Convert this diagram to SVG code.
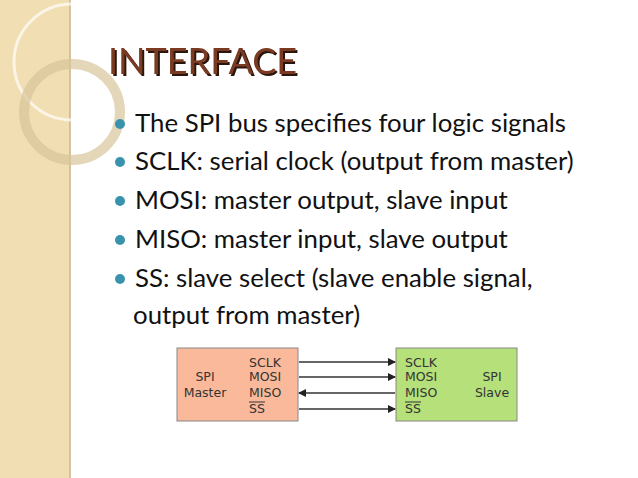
<svg xmlns="http://www.w3.org/2000/svg" width="638" height="478" viewBox="0 0 638 478">
<style>
.b{font-family:"Lato","Open Sans",sans-serif;font-size:25.8px;fill:#111}
.s{font-family:"DejaVu Sans",sans-serif;font-size:12.5px;fill:#333}
.ln{stroke:#333;stroke-width:1.3;fill:none}
</style>
<defs>
<marker id="ah" markerWidth="8" markerHeight="8" refX="7" refY="4" orient="auto" markerUnits="userSpaceOnUse"><path d="M0,0 L8,4 L0,8 Z" fill="#222"/></marker>
<filter id="sh" x="-5%" y="-20%" width="110%" height="140%"><feDropShadow dx="2" dy="2" stdDeviation="0.3" flood-color="#2a1810"/></filter>
</defs>
<rect width="638" height="478" fill="#fff"/>
<g id="strip">
<rect x="0" y="0" width="70" height="478" fill="#f1deb2"/>
<line x1="70" y1="0" x2="70" y2="478" stroke="#c9b48a" stroke-width="1.5"/>
<circle cx="72" cy="62" r="58" fill="none" stroke="#fff" stroke-opacity="0.7" stroke-width="3"/>
<circle cx="72" cy="112" r="48" fill="none" stroke="#d8c59a" stroke-opacity="0.7" stroke-width="10"/>
</g>
<g id="title">
<text x="108" y="74" font-family="Lato,sans-serif" font-size="36" fill="#7a3a22" filter="url(#sh)">INTERFACE</text>
</g>
<g id="bullets" fill="#3a93ad">
<circle cx="120" cy="124" r="5"/><circle cx="120" cy="162" r="5"/><circle cx="120" cy="201" r="5"/><circle cx="120" cy="240" r="5"/><circle cx="120" cy="279" r="5"/>
</g>
<g id="text">
<text class="b" x="135" y="132">The SPI bus specifies four logic signals</text>
<text class="b" x="135" y="170">SCLK: serial clock (output from master)</text>
<text class="b" x="135" y="209">MOSI: master output, slave input</text>
<text class="b" x="135" y="248">MISO: master input, slave output</text>
<text class="b" x="135" y="287">SS: slave select (slave enable signal,</text>
<text class="b" x="133" y="324">output from master)</text>
</g>
<g id="master">
<rect x="177" y="348" width="121" height="73" fill="#f9b99a" stroke="#888"/>
<text class="s" x="205" y="381" text-anchor="middle">SPI</text>
<text class="s" x="205" y="397" text-anchor="middle">Master</text>
<text class="s" x="249" y="367">SCLK</text>
<text class="s" x="249" y="381">MOSI</text>
<text class="s" x="249" y="397">MISO</text>
<text class="s" x="249" y="413">SS</text>
<line x1="249" y1="402" x2="265" y2="402" stroke="#333"/>
</g>
<g id="slave">
<rect x="396" y="348" width="121" height="73" fill="#b6e07a" stroke="#888"/>
<text class="s" x="492" y="381" text-anchor="middle">SPI</text>
<text class="s" x="492" y="397" text-anchor="middle">Slave</text>
<text class="s" x="405" y="367">SCLK</text>
<text class="s" x="405" y="381">MOSI</text>
<text class="s" x="405" y="397">MISO</text>
<text class="s" x="405" y="413">SS</text>
<line x1="405" y1="402" x2="421" y2="402" stroke="#333"/>
</g>
<g id="connectors">
<line class="ln" x1="299" y1="362" x2="395" y2="362" marker-end="url(#ah)"/>
<line class="ln" x1="299" y1="377" x2="395" y2="377" marker-end="url(#ah)"/>
<line class="ln" x1="395" y1="393" x2="299" y2="393" marker-end="url(#ah)"/>
<line class="ln" x1="299" y1="409" x2="395" y2="409" marker-end="url(#ah)"/>
</g>
</svg>
